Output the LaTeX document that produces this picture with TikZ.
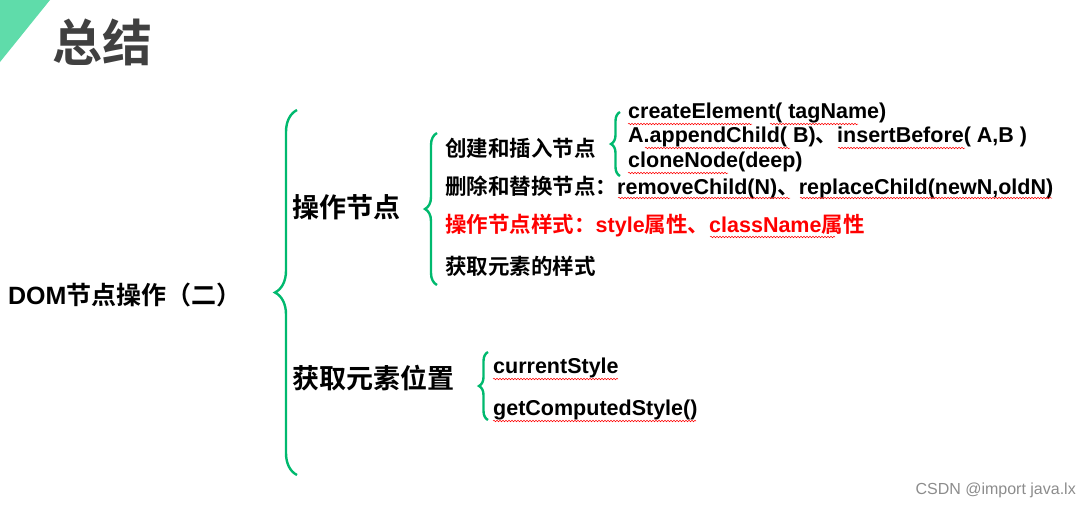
\documentclass[tikz,border=0pt]{standalone}
\usepackage{fontspec}
\setmainfont{Liberation Sans}
\newfontfamily\cjk{Noto Sans CJK SC}[BoldFont={Noto Sans CJK SC Bold}]
\usetikzlibrary{decorations.pathreplacing,decorations.pathmorphing}
\definecolor{brgreen}{RGB}{0,185,110}
\definecolor{mint}{RGB}{95,220,170}
\tikzset{
 br/.style={draw=brgreen,line width=2.4pt,decorate,decoration={brace,amplitude=12pt,mirror}},
 txt/.style={anchor=west,inner sep=0pt,font=\fontsize{21.5}{21.5}\selectfont\bfseries},
 big/.style={anchor=west,inner sep=0pt,font=\cjk\fontsize{27}{27}\selectfont\bfseries},
 wavy/.style={draw=red,line width=0.5pt,decorate,decoration={snake,amplitude=0.8pt,segment length=3pt}}
}
\newcommand{\cj}[1]{{\cjk #1}}
\begin{document}
\begin{tikzpicture}[x=1pt,y=-1pt]
\useasboundingbox (0,0) rectangle (1091,509);
\fill[mint] (0,0) -- (50,0) -- (0,62) -- cycle;
\node[anchor=west,inner sep=0pt,text=black!75,font=\cjk\fontsize{50}{50}\selectfont\bfseries] (title) at (52,42) {总结};
\node[anchor=west,inner sep=0pt,font=\fontsize{25}{25}\selectfont\bfseries] (dom) at (8,295) {DOM\cj{节点操作（二）}};
\draw[br,decoration={amplitude=22pt}] (297,110) -- (297,475);
\node[big] (op) at (292,207) {操作节点};
\node[big] (pos) at (292,378) {获取元素位置};
\draw[br,decoration={amplitude=12pt}] (437,133) -- (437,285);
\node[txt] (ins) at (445,148) {\cj{创建和插入节点}};
\draw[br,decoration={amplitude=9pt}] (620,112) -- (620,176);
\node[txt] (c1) at (628,113) {createElement( tagName)};
\node[txt] (c2) at (628,137) {A.appendChild( B)\cj{、}insertBefore( A,B )};
\node[txt] (c3) at (628,162) {cloneNode(deep)};
\node[txt] (del) at (445,187) {\cj{删除和替换节点：}removeChild(N)\cj{、}replaceChild(newN,oldN)};
\node[txt,text=red] (sty) at (445,226) {\cj{操作节点样式：}style\cj{属性、}className\cj{属性}};
\node[txt] (get) at (445,266) {\cj{获取元素的样式}};
\draw[br,decoration={amplitude=9pt}] (488,352) -- (488,420);
\node[txt] (cs) at (493,368) {currentStyle};
\node[txt] (gcs) at (493,410) {getComputedStyle()};
\node[anchor=east,inner sep=0pt,text=black!45,font=\fontsize{16}{16}\selectfont] (wm) at (1076,490) {CSDN @import java.lx};
% spell-check underlines
\draw[wavy] (628,124) -- (752,124);
\draw[wavy] (770,124) -- (858,124);
\draw[wavy] (645,148) -- (790,148);
\draw[wavy] (838,148) -- (965,148);
\draw[wavy] (628,173) -- (728,173);
\draw[wavy] (618,198) -- (790,198);
\draw[wavy] (800,198) -- (1052,198);
\draw[wavy] (710,237) -- (835,237);
\draw[wavy] (493,379) -- (618,379);
\draw[wavy] (493,421) -- (696,421);
\end{tikzpicture}
\end{document}
